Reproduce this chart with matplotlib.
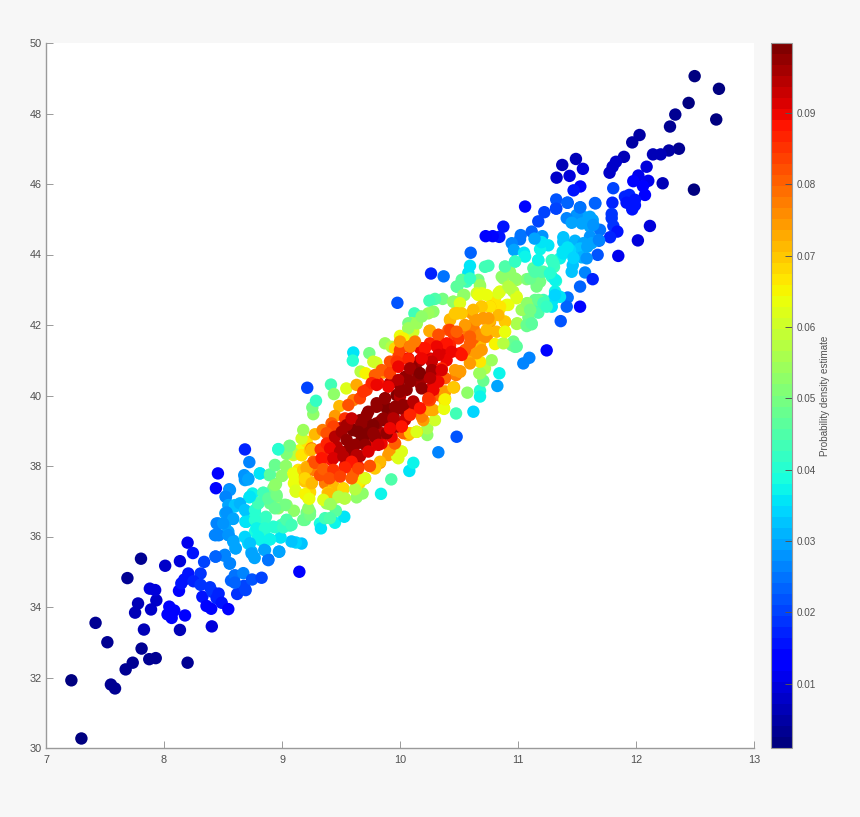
import matplotlib
matplotlib.use('Agg')
import matplotlib.pyplot as plt
from matplotlib.colors import Normalize
from matplotlib.cm import ScalarMappable

plt.rcParams['font.family'] = ['Liberation Sans', 'DejaVu Sans']

# (x, y, probability density)
lower_tail = [
(7.30,30.27,.002),(7.215,31.92,.002),(7.55,31.80,.003),(7.585,31.69,.003),(7.675,32.23,.003),(7.735,32.42,.004),
(7.81,32.82,.004),(7.875,32.52,.004),(7.93,32.55,.004),(8.20,32.42,.004),(7.52,33.00,.003),(7.42,33.55,.003),
(7.83,33.36,.006),(8.135,33.35,.007),(8.405,33.45,.009),(7.755,33.84,.006),(7.78,34.10,.006),(7.89,33.93,.008),
(7.935,34.19,.008),(7.88,34.52,.010),(7.925,34.48,.010),(7.69,34.82,.004),(7.805,35.37,.004),(8.01,35.17,.008),
(8.135,35.30,.010),(8.20,35.825,.011),(8.245,35.53,.015),(8.34,35.28,.020),(8.438,35.43,.024),(8.51,35.455,.027),
(8.556,35.23,.026),(8.045,34.01,.012),(8.087,33.90,.012),(8.03,33.79,.012),(8.065,33.69,.012),(8.178,33.76,.012),
(8.127,34.46,.013),(8.147,34.67,.015),(8.172,34.78,.016),(8.206,34.95,.016),(8.31,34.95,.018),(8.25,34.73,.017),
(8.31,34.63,.018),(8.325,34.29,.016),(8.36,34.03,.014),(8.40,33.95,.014),(8.39,34.56,.018),(8.41,34.43,.018),
(8.463,34.38,.017),(8.446,34.25,.017),(8.489,34.12,.015),(8.545,33.94,.013),(8.62,34.37,.018),(8.678,34.60,.021),
(8.692,34.48,.020),(8.568,34.75,.024),(8.60,34.90,.025),(8.672,34.96,.026),(8.60,34.69,.024),(8.746,34.78,.022),
(8.827,34.83,.020),(9.147,35.00,.012),(8.607,35.66,.030),(8.588,35.88,.029),(8.548,36.04,.028),(8.438,36.04,.027),
(8.466,36.04,.027),(8.46,36.37,.027),(8.517,36.355,.029),(8.58,36.515,.029),(8.52,36.66,.029),(8.69,36.42,.034),
]
lower_shoulder = [
(9.166,35.80,.032),(9.118,35.83,.034),(9.08,35.86,.033),(8.977,35.57,.028),(8.884,35.35,.025),(8.856,35.62,.029),
(8.768,35.39,.030),(8.743,35.57,.031),(8.988,35.97,.036),(8.898,35.92,.038),(8.819,35.90,.038),(8.714,35.80,.034),
(8.686,35.99,.035),(8.545,36.14,.029),(8.582,36.50,.031),(8.60,36.85,.033),(8.644,36.92,.034),(8.553,36.89,.031),
(8.525,37.13,.028),(8.553,37.34,.027),(8.44,37.37,.014),(8.457,37.79,.012),(8.68,37.74,.028),(8.714,37.65,.029),
(8.686,37.60,.029),(8.723,38.11,.026),(8.686,38.47,.017),(8.813,37.79,.037),(8.892,37.74,.046),(8.943,38.02,.048),
(8.969,38.47,.040),(9.062,38.57,.051),(9.039,38.34,.053),(9.034,38.0,.052),(8.997,37.72,.052),(8.949,37.49,.051),
(8.926,37.37,.050),(8.841,37.24,.045),(8.75,37.22,.038),(8.723,37.11,.037),(8.884,37.11,.048),(8.954,37.13,.050),
(8.799,36.94,.043),(8.898,36.94,.048),(9.039,36.89,.053),(8.969,36.80,.052),(9.101,36.73,.052),(8.70,36.70,.035),
(8.771,36.66,.040),(8.864,36.56,.044),(8.771,36.42,.040),(8.695,36.42,.036),(8.799,36.28,.040),(8.926,36.28,.041),
(8.997,36.33,.043),(9.067,36.31,.044),(9.039,36.47,.046),(8.856,36.18,.040),(8.771,36.14,.039),(9.195,36.47,.046),
(9.237,36.70,.050),(9.209,36.68,.050),(9.322,36.37,.039),(9.33,36.23,.036),(9.364,36.52,.044),(9.449,36.39,.037),
(9.528,36.56,.036),(9.457,36.73,.047),(9.406,36.52,.045),(9.412,36.92,.052),(9.378,36.94,.054),(9.364,37.04,.060),
(9.463,37.11,.056),(9.528,37.08,.057),(9.632,37.11,.053),(9.683,37.22,.052),(9.839,37.21,.037),(9.926,37.62,.045),
(10.079,37.86,.035),(10.113,38.09,.037),(10.325,38.39,.026),(10.231,38.88,.052),(10.231,39.07,.056),(10.296,39.30,.060),
(10.373,39.64,.062),(9.118,37.27,.062),(9.101,37.51,.063),(9.101,37.74,.063),(9.138,37.89,.066),(9.166,38.31,.068),
(9.096,38.31,.060),(9.152,38.45,.064),(9.209,38.69,.067),(9.166,38.78,.060),(9.18,39.02,.055),(9.265,39.47,.052),
(9.257,39.66,.049),(9.288,39.85,.042),(9.214,40.22,.020),(9.415,40.31,.044),(9.44,40.04,.053),(9.545,40.20,.062),
(9.604,41.22,.036),(9.60,40.99,.040),(9.74,41.20,.049),(9.80,40.93,.062),(9.666,40.68,.058),(9.709,40.63,.065),
(9.873,41.48,.054),(9.929,41.38,.058),(9.774,40.96,.060),
]
lower_shoulder_detail = [
(8.559,37.32,.028),(8.522,37.13,.027),(8.545,36.89,.030),(8.601,36.89,.033),(8.644,36.94,.031),(8.531,36.68,.028),
(8.587,36.5,.030),(8.686,36.75,.033),(8.7,36.42,.036),(8.771,36.75,.040),(8.799,36.94,.043),(8.728,37.13,.036),
(8.841,37.24,.043),(8.884,37.08,.047),(8.954,37.18,.050),(9.025,36.9,.050),(8.94,36.8,.048),(8.855,36.52,.042),
(8.771,36.47,.040),(8.785,36.23,.038),(8.855,36.23,.040),(8.94,36.26,.040),(9.011,36.26,.042),(9.039,36.47,.045),
(9.081,36.33,.043),(9.18,36.47,.048),(9.237,36.61,.050),(8.799,35.99,.037),(8.898,35.92,.037),(8.686,35.98,.034),
(8.728,35.81,.033),(8.446,36.37,.027),(8.502,36.37,.028),(8.432,36.04,.026),(8.46,36.04,.026),(8.545,36.04,.028),
(8.587,35.85,.029),(8.607,35.67,.030),(8.85,35.62,.030),(8.974,35.57,.029),(8.742,35.52,.030),(8.765,35.41,.029),
(8.884,35.33,.025),(8.516,35.48,.027),(8.437,35.43,.024),(8.559,35.24,.026),(8.686,37.65,.028),(8.714,37.62,.029),
(8.813,37.79,.036),(8.898,37.76,.046),(8.94,38.03,.048),(9.033,38.0,.052),(9.002,37.72,.052),(8.94,37.46,.052),
(9.096,37.79,.063),(9.11,37.56,.063),(9.115,37.3,.062),(9.195,37.56,.070),(9.251,37.53,.070),(9.18,37.89,.070),
(9.237,37.27,.066),(9.223,37.08,.063),(9.096,38.36,.058),(9.039,38.36,.051),(9.166,38.31,.066),(9.067,38.57,.050),
(8.969,38.48,.040),(9.237,38.45,.070),(9.251,38.03,.075),(9.223,36.8,.052),
]
upper_shoulder = [
(11.06,45.36,.014),(11.223,45.20,.020),(11.172,44.94,.021),(11.322,45.31,.018),(11.421,45.47,.021),(11.528,45.34,.023),
(11.656,45.45,.023),(11.80,45.47,.017),(11.794,45.15,.019),(11.794,45.03,.019),(11.808,44.81,.018),(11.842,44.65,.016),
(11.78,44.49,.017),(11.85,43.96,.011),(11.675,43.99,.022),(11.687,44.39,.023),(11.695,44.70,.025),(11.633,44.98,.029),
(11.61,45.07,.029),(11.554,45.07,.029),(11.497,45.12,.028),(11.413,45.03,.027),(11.455,44.90,.029),(11.54,44.88,.029),
(11.61,44.79,.029),(10.876,44.79,.015),(10.842,44.5,.015),(10.786,44.52,.014),(10.726,44.52,.013),(11.023,44.55,.025),
(11.017,44.43,.025),(11.116,44.65,.023),(11.206,44.52,.028),(10.947,44.32,.027),(10.966,44.13,.030),(11.051,44.05,.036),
(11.06,43.94,.037),(11.257,44.26,.035),(11.187,44.15,.037),(11.384,44.49,.032),(11.384,44.36,.032),(11.483,44.39,.031),
(11.61,44.51,.028),(11.554,44.32,.030),(11.526,44.17,.032),(11.54,43.92,.031),(11.582,43.89,.028),(11.441,44.13,.034),
(11.379,44.08,.036),(11.356,43.89,.038),(11.286,43.84,.042),(11.305,43.65,.043),(11.464,43.70,.032),(11.455,43.51,.032),
(11.568,43.49,.026),(11.633,43.30,.017),(11.526,43.09,.024),(11.421,42.78,.025),(11.413,42.52,.023),(11.526,42.52,.014),
(11.362,42.11,.022),(11.243,41.28,.014),(11.096,41.07,.026),(11.045,40.91,.026),(10.842,40.63,.038),(10.825,40.27,.029),
(10.678,40.14,.041),(10.678,39.97,.038),(10.706,40.42,.048),(10.571,40.08,.052),(10.622,39.54,.034),(10.475,39.49,.044),
(10.48,38.83,.022),(10.599,44.05,.024),(10.593,43.68,.035),(10.579,43.48,.036),(10.263,43.46,.017),(10.37,43.38,.025),
(9.978,42.63,.022),(10.72,43.65,.043),(10.749,43.68,.043),(10.89,43.65,.046),(10.975,43.80,.042),(10.932,43.51,.052),
(10.876,43.32,.055),(10.989,43.28,.054),(11.074,43.30,.051),(11.13,43.61,.047),(11.172,43.84,.040),(11.215,43.51,.044),
(11.286,43.37,.042),(11.322,43.25,.040),(11.158,43.09,.050),(11.187,43.23,.049),(11.314,42.95,.037),(11.356,42.80,.035),
(11.294,42.71,.035),(11.286,42.52,.035),(11.215,42.71,.044),(11.144,42.71,.048),(11.187,42.52,.044),(11.172,42.35,.045),
(11.102,42.43,.051),(11.045,42.43,.054),(11.074,42.61,.052),(11.088,42.22,.050),(10.989,42.03,.056),(11.074,41.97,.048),
(11.116,42.02,.046),(10.961,41.53,.050),(10.975,41.38,.047),(10.565,43.23,.044),(10.486,43.09,.045),(10.362,42.74,.050),
(10.297,42.74,.045),(10.249,42.69,.043),(10.283,42.38,.053),(10.24,42.33,.055),(10.17,42.24,.050),(10.122,42.33,.044),
(10.071,41.90,.056),(10.099,42.05,.056),(10.141,42.03,.058),(10.0,41.69,.063),(10.113,41.81,.060),(10.043,41.62,.061),
(10.664,43.28,.050),(10.678,43.09,.055),(10.545,42.85,.054),(10.452,42.66,.055),(10.503,42.66,.060),(10.72,40.77,.057),
(10.777,41.0,.055),(10.672,40.63,.055),
]
upper_shoulder_detail = [
(10.678,43.13,.055),(10.692,42.9,.062),(10.65,42.9,.060),(10.847,42.95,.062),(10.805,42.76,.066),(10.904,42.57,.064),
(10.847,42.47,.066),(10.89,42.1,.064),(10.523,43.28,.046),(10.593,43.32,.042),(10.48,43.09,.047),(10.537,42.85,.052),
(10.452,42.66,.052),(10.508,42.62,.062),(10.862,43.37,.052),(10.918,43.51,.052),(10.975,43.32,.052),(10.89,43.66,.045),
(10.975,43.8,.042),(10.96,42.95,.058),(10.918,43.09,.058),(10.989,42.76,.062),(11.031,42.43,.055),(10.994,42.05,.056),
(11.079,42.62,.052),(11.102,42.43,.050),(11.073,42.0,.048),(11.116,42.05,.046),(11.172,42.71,.048),(11.215,42.62,.044),
(11.243,42.52,.042),(11.158,43.18,.050),(11.102,43.32,.048),(11.2,43.51,.045),(11.144,43.51,.045),(11.172,43.84,.038),
(11.3,43.75,.042),(11.314,43.28,.038),(11.271,43.47,.040),(11.314,42.85,.034),(10.946,41.43,.048),(10.989,41.39,.046),
(10.678,40.63,.055),(11.638,44.84,.028),(11.624,44.32,.029),(11.686,44.41,.026),(11.587,44.22,.030),(11.384,44.03,.036),
(11.42,44.2,.036),(11.47,43.9,.034),(11.2,44.35,.035),(11.14,44.45,.030),(10.071,42.05,.050),(10.141,42.05,.055),
(10.184,42.24,.052),(10.071,41.91,.055),(10.028,41.62,.065),(9.958,41.34,.068),
]
upper_tail = [
(12.497,49.06,.002),(12.703,48.70,.002),(12.446,48.30,.002),(12.68,47.83,.002),(12.333,47.97,.003),(12.288,47.63,.004),
(12.03,47.39,.005),(11.968,47.18,.005),(12.364,47.0,.004),(12.279,46.95,.005),(12.209,46.84,.006),(12.144,46.84,.006),
(11.898,46.77,.007),(11.83,46.63,.008),(11.802,46.49,.008),(11.776,46.32,.008),(12.491,45.84,.002),(12.09,46.49,.010),
(12.02,46.24,.011),(12.104,46.09,.011),(11.977,46.08,.012),(12.226,46.02,.007),(12.059,45.94,.012),(12.076,45.69,.013),
(11.491,46.71,.007),(11.375,46.54,.007),(11.55,46.43,.009),(11.437,46.23,.009),(11.327,46.18,.008),(11.528,45.93,.014),
(11.471,45.82,.015),(11.807,45.88,.020),(11.906,45.64,.017),(11.943,45.69,.017),(11.92,45.47,.016),(11.991,45.55,.015),
(11.991,45.4,.015),(11.968,45.28,.016),(11.324,45.56,.022),(11.324,45.30,.021),(11.418,45.47,.023),(11.652,45.46,.023),
(11.525,45.33,.025),(12.118,44.81,.009),(12.016,44.40,.009),
]
middle_band = [
(9.279,38.9,.072),(9.209,37.98,.071),(9.271,38.12,.076),(9.251,38.5,.077),(9.195,37.7,.072),(9.251,37.53,.072),
(9.237,37.24,.068),(9.195,37.2,.065),(9.231,37.07,.063),(9.364,37.51,.078),(9.44,37.41,.072),(9.52,37.34,.069),
(9.387,37.24,.068),(9.703,37.65,.072),(9.66,37.53,.068),(9.624,37.37,.062),(9.83,38.09,.076),(9.901,38.31,.075),
(9.977,38.26,.062),(10.014,38.41,.062),(10.07,38.88,.072),(10.141,38.97,.072),(10.183,39.45,.082),(10.197,39.30,.075),
(10.282,39.59,.073),(10.325,40.01,.080),(10.381,40.11,.074),(10.381,39.92,.070),(10.376,39.87,.070),(10.373,39.62,.063),
(10.458,40.23,.073),(10.475,40.58,.077),(10.509,40.67,.075),(10.593,40.96,.072),(10.678,40.96,.067),(10.593,41.29,.075),
(10.678,41.48,.072),(10.735,41.67,.076),(10.805,41.46,.065),(10.876,41.48,.057),(10.89,41.81,.065),(10.89,42.09,.070),
(10.918,42.57,.064),(10.848,42.52,.066),(10.989,42.80,.062),(10.932,43.04,.058),(10.834,42.9,.062),(10.735,42.85,.063),
(10.664,42.85,.063),(10.424,42.16,.072),(10.486,42.33,.070),(10.608,42.33,.074),(10.692,42.52,.072),(10.763,42.52,.071),
(10.834,42.28,.072),(10.706,42.19,.077),(10.622,41.91,.080),(10.763,42.09,.074),(10.249,41.83,.073),(9.858,40.65,.074),
(9.632,40.30,.073),(9.486,39.70,.072),(9.449,39.42,.075),(9.344,39.02,.077),(9.604,39.87,.078),
]
middle_band_detail = [
(10.763,42.52,.067),(10.692,42.52,.070),(10.621,42.43,.072),(10.706,42.19,.074),(10.763,42.14,.072),(10.636,42.1,.074),
(10.579,41.81,.078),(10.621,41.62,.080),(10.72,41.67,.076),(10.819,41.81,.072),(10.89,41.81,.063),(10.424,42.14,.072),
(10.466,42.33,.070),(10.523,42.33,.070),(10.466,40.72,.075),(10.509,40.69,.075),(10.382,40.11,.075),(10.452,40.23,.070),
(10.382,39.89,.065),(10.593,40.91,.075),(10.551,41.29,.080),(10.593,41.48,.080),(10.692,41.29,.075),(10.65,41.2,.075),
(10.622,41.86,.077),(10.678,41.72,.076),(10.593,41.9,.077),(10.551,42.0,.075),(10.48,42.33,.070),(10.735,41.86,.072),
(10.65,42.14,.075),(10.749,42.19,.074),(9.252,38.47,.072),(9.266,38.12,.080),(9.266,37.89,.078),(9.209,37.93,.073),
(9.195,37.65,.068),(9.252,37.51,.072),(9.746,38.0,.077),(9.831,38.12,.072),(9.788,37.93,.070),(9.915,38.45,.075),
(9.958,38.64,.078),(10.071,38.93,.075),(10.028,38.93,.080),(9.52,37.37,.068),(9.647,37.56,.065),(9.704,37.65,.062),
(9.619,37.34,.058),(9.393,37.22,.072),(9.35,37.04,.062),(9.478,37.13,.057),(9.407,36.92,.054),(9.534,37.08,.058),
(9.986,38.22,.062),(10.014,38.41,.062),(10.085,38.93,.070),(10.141,38.97,.062),(10.184,39.4,.078),(10.254,39.59,.073),
]
red_core = [
(9.42,39.21,.080),(9.534,39.35,.085),(9.66,39.92,.083),(9.717,40.16,.085),(9.816,40.35,.088),(9.788,40.58,.081),
(9.42,38.17,.088),(9.35,38.22,.086),(9.279,38.09,.082),(9.322,37.74,.082),(9.406,37.68,.082),(9.491,37.72,.083),
(9.604,37.79,.080),(9.534,38.0,.092),(9.647,37.98,.088),(9.745,38.0,.082),(9.957,38.64,.080),(9.844,38.64,.089),
(9.76,38.57,.090),(9.661,38.28,.094),(9.548,38.41,.097),(9.463,38.55,.095),(9.604,38.55,.097),(9.689,38.69,.098),
(9.604,39.02,.099),(9.491,39.07,.094),(9.689,39.02,.099),(9.774,38.88,.097),(9.844,38.93,.094),(9.929,38.83,.090),
(10.014,39.13,.090),(9.943,39.12,.095),(9.745,39.16,.099),(9.661,39.30,.098),(9.731,39.54,.098),(9.802,39.78,.097),
(9.887,39.64,.099),(9.943,39.40,.097),(9.844,39.30,.099),(10.056,39.49,.094),(10.099,39.73,.094),(10.254,39.87,.083),
(10.056,40.16,.098),(9.986,40.35,.097),(9.971,40.01,.099),(9.873,39.92,.098),(10.056,40.53,.096),(10.169,40.35,.096),
(10.141,40.72,.097),(10.24,40.16,.091),(10.254,40.53,.090),(10.339,40.63,.092),(10.169,41.0,.096),(10.254,41.05,.092),
(10.339,41.2,.092),(10.395,41.0,.09),(10.07,41.05,.087),(9.986,40.87,.089),(9.901,40.68,.086),(9.76,40.35,.087),
(9.689,40.11,.085),(9.562,39.73,.082),(9.435,39.12,.083),(9.378,38.93,.082),(10.0,41.29,.084),(10.084,41.38,.083),
(10.198,41.34,.088),(10.325,41.43,.088),(10.0,41.53,.075),(10.41,41.86,.081),(10.452,41.76,.083),(10.495,41.62,.085),
(10.593,41.67,.080),(10.509,41.2,.088),(10.424,41.43,.087),(10.325,41.72,.083),(10.254,41.48,.087),(10.339,41.29,.091),
(10.269,41.0,.090),(10.353,40.77,.086),(10.382,40.49,.081),(10.283,40.44,.092),(10.24,39.87,.083),(10.156,40.58,.098),
(10.099,40.82,.098),(10.043,40.53,.098),(9.986,40.82,.088),(10.071,41.05,.090),(10.17,41.34,.090),(10.085,41.38,.085),
(9.986,41.1,.084),(9.915,40.96,.082),(9.845,40.72,.080),(9.802,40.3,.09),(9.915,40.35,.094),(10.0,39.97,.095),
(10.113,39.78,.092),(9.859,39.3,.099),
]
red_core_detail = [
(9.328,38.47,.085),(9.379,38.64,.087),(9.336,38.22,.088),(9.407,38.5,.090),(9.449,38.83,.094),(9.506,38.97,.096),
(9.548,38.74,.097),(9.605,39.02,.099),(9.548,39.16,.096),(9.59,39.35,.093),(9.675,39.21,.098),(9.718,39.45,.098),
(9.647,38.97,.099),(9.732,38.93,.099),(9.802,39.21,.098),(9.859,39.35,.098),(9.944,39.4,.097),(10.0,39.64,.097),
(9.887,38.93,.097),(9.972,39.12,.096),(10.043,39.31,.093),(10.085,39.5,.088),(10.113,39.78,.094),(9.788,38.83,.097),
(9.675,38.74,.099),(9.704,38.6,.097),(9.619,38.6,.098),(9.562,38.45,.097),(9.492,38.41,.095),(9.435,38.22,.092),
(9.52,38.27,.094),(9.633,38.31,.094),(9.732,38.41,.092),(9.817,38.6,.092),(9.59,38.12,.088),(9.534,37.96,.087),
(9.647,37.93,.083),(9.35,37.91,.080),(9.435,37.89,.085),(9.401,37.65,.082),(9.492,37.7,.083),(9.59,37.65,.080),
(10.085,41.39,.078),(10.127,41.53,.077),(10.254,41.84,.073),(10.325,41.72,.082),(10.424,41.86,.083),(10.48,41.81,.080),
(10.396,41.48,.088),(10.311,41.39,.090),(10.212,41.34,.088),(10.438,41.24,.090),(10.325,41.15,.092),(10.269,40.96,.093),
(10.184,41.05,.090),(10.071,41.03,.086),(9.972,40.96,.085),(9.915,40.63,.084),(9.986,40.82,.090),(10.085,40.77,.096),
(10.17,40.63,.099),(10.269,40.72,.096),(10.353,40.72,.092),(10.325,40.39,.090),(9.986,40.44,.095),(9.901,40.25,.090),
(10.0,40.11,.097),(10.085,40.39,.098),(10.184,40.2,.098),(10.254,40.49,.094),(10.283,40.16,.090),(10.24,39.92,.085),
(10.028,39.73,.097),(9.958,39.68,.098),(9.873,39.92,.098),(9.802,39.68,.097),(10.113,39.83,.094),(10.17,39.64,.088),
(10.085,39.45,.086),(9.944,39.35,.095),(10.014,39.12,.088),(9.915,39.07,.090),(9.774,39.16,.099),(9.774,38.93,.098),
(10.523,41.15,.088),
]
x_ticks = [7, 8, 9, 10, 11, 12, 13]
y_ticks = [30, 32, 34, 36, 38, 40, 42, 44, 46, 48, 50]
cbar_ticks = [0.01, 0.02, 0.03, 0.04, 0.05, 0.06, 0.07, 0.08, 0.09]
cbar_range = (0.001, 0.0998)
cbar_label = 'Probability density estimate'

points = (lower_tail + lower_shoulder + lower_shoulder_detail + upper_shoulder + upper_shoulder_detail
          + upper_tail + middle_band + middle_band_detail + red_core + red_core_detail)
xs, ys, ds = zip(*points)

W, H = 860, 817
fig = plt.figure(figsize=(W/100, H/100), dpi=100, facecolor='#f7f7f7')
ax = fig.add_axes([46/W, 1-748/H, 708/W, 705/H], facecolor='white')
cmap = plt.get_cmap('jet', 64)
norm = Normalize(*cbar_range)
ax.scatter(xs, ys, c=ds, cmap=cmap, norm=norm, s=80, linewidths=0, clip_on=True)
ax.set_xlim(7, 13)
ax.set_ylim(30, 50)
ax.set_xticks(x_ticks)
ax.set_yticks(y_ticks)
for s in ('top', 'right'):
    ax.spines[s].set_visible(False)
for s in ('left', 'bottom'):
    ax.spines[s].set_color('#9a9a9a')
    ax.spines[s].set_linewidth(1.0)
ax.tick_params(direction='in', length=5, width=0.7, color='#9a9a9a', labelcolor='#505050', labelsize=7.8)
ax.tick_params(axis='x', pad=5)
ax.tick_params(axis='y', pad=3)

cax = fig.add_axes([771/W, 1-748/H, 21/W, 705/H])
cb = fig.colorbar(ScalarMappable(norm=norm, cmap=cmap), cax=cax)
cb.set_ticks(cbar_ticks)
cb.set_ticklabels(['%.2f' % t for t in cbar_ticks])
cb.outline.set_edgecolor('#9a9a9a')
cb.outline.set_linewidth(0.8)
cb.ax.tick_params(direction='in', length=5, width=0.7, color='#555555', labelcolor='#505050', labelsize=7.1, pad=3)
fig.text(825/W, 1-396/H, cbar_label, rotation=90, ha='center', va='center', fontsize=7.1, color='#505050')
fig.savefig('out.png', dpi=100, facecolor=fig.get_facecolor())
